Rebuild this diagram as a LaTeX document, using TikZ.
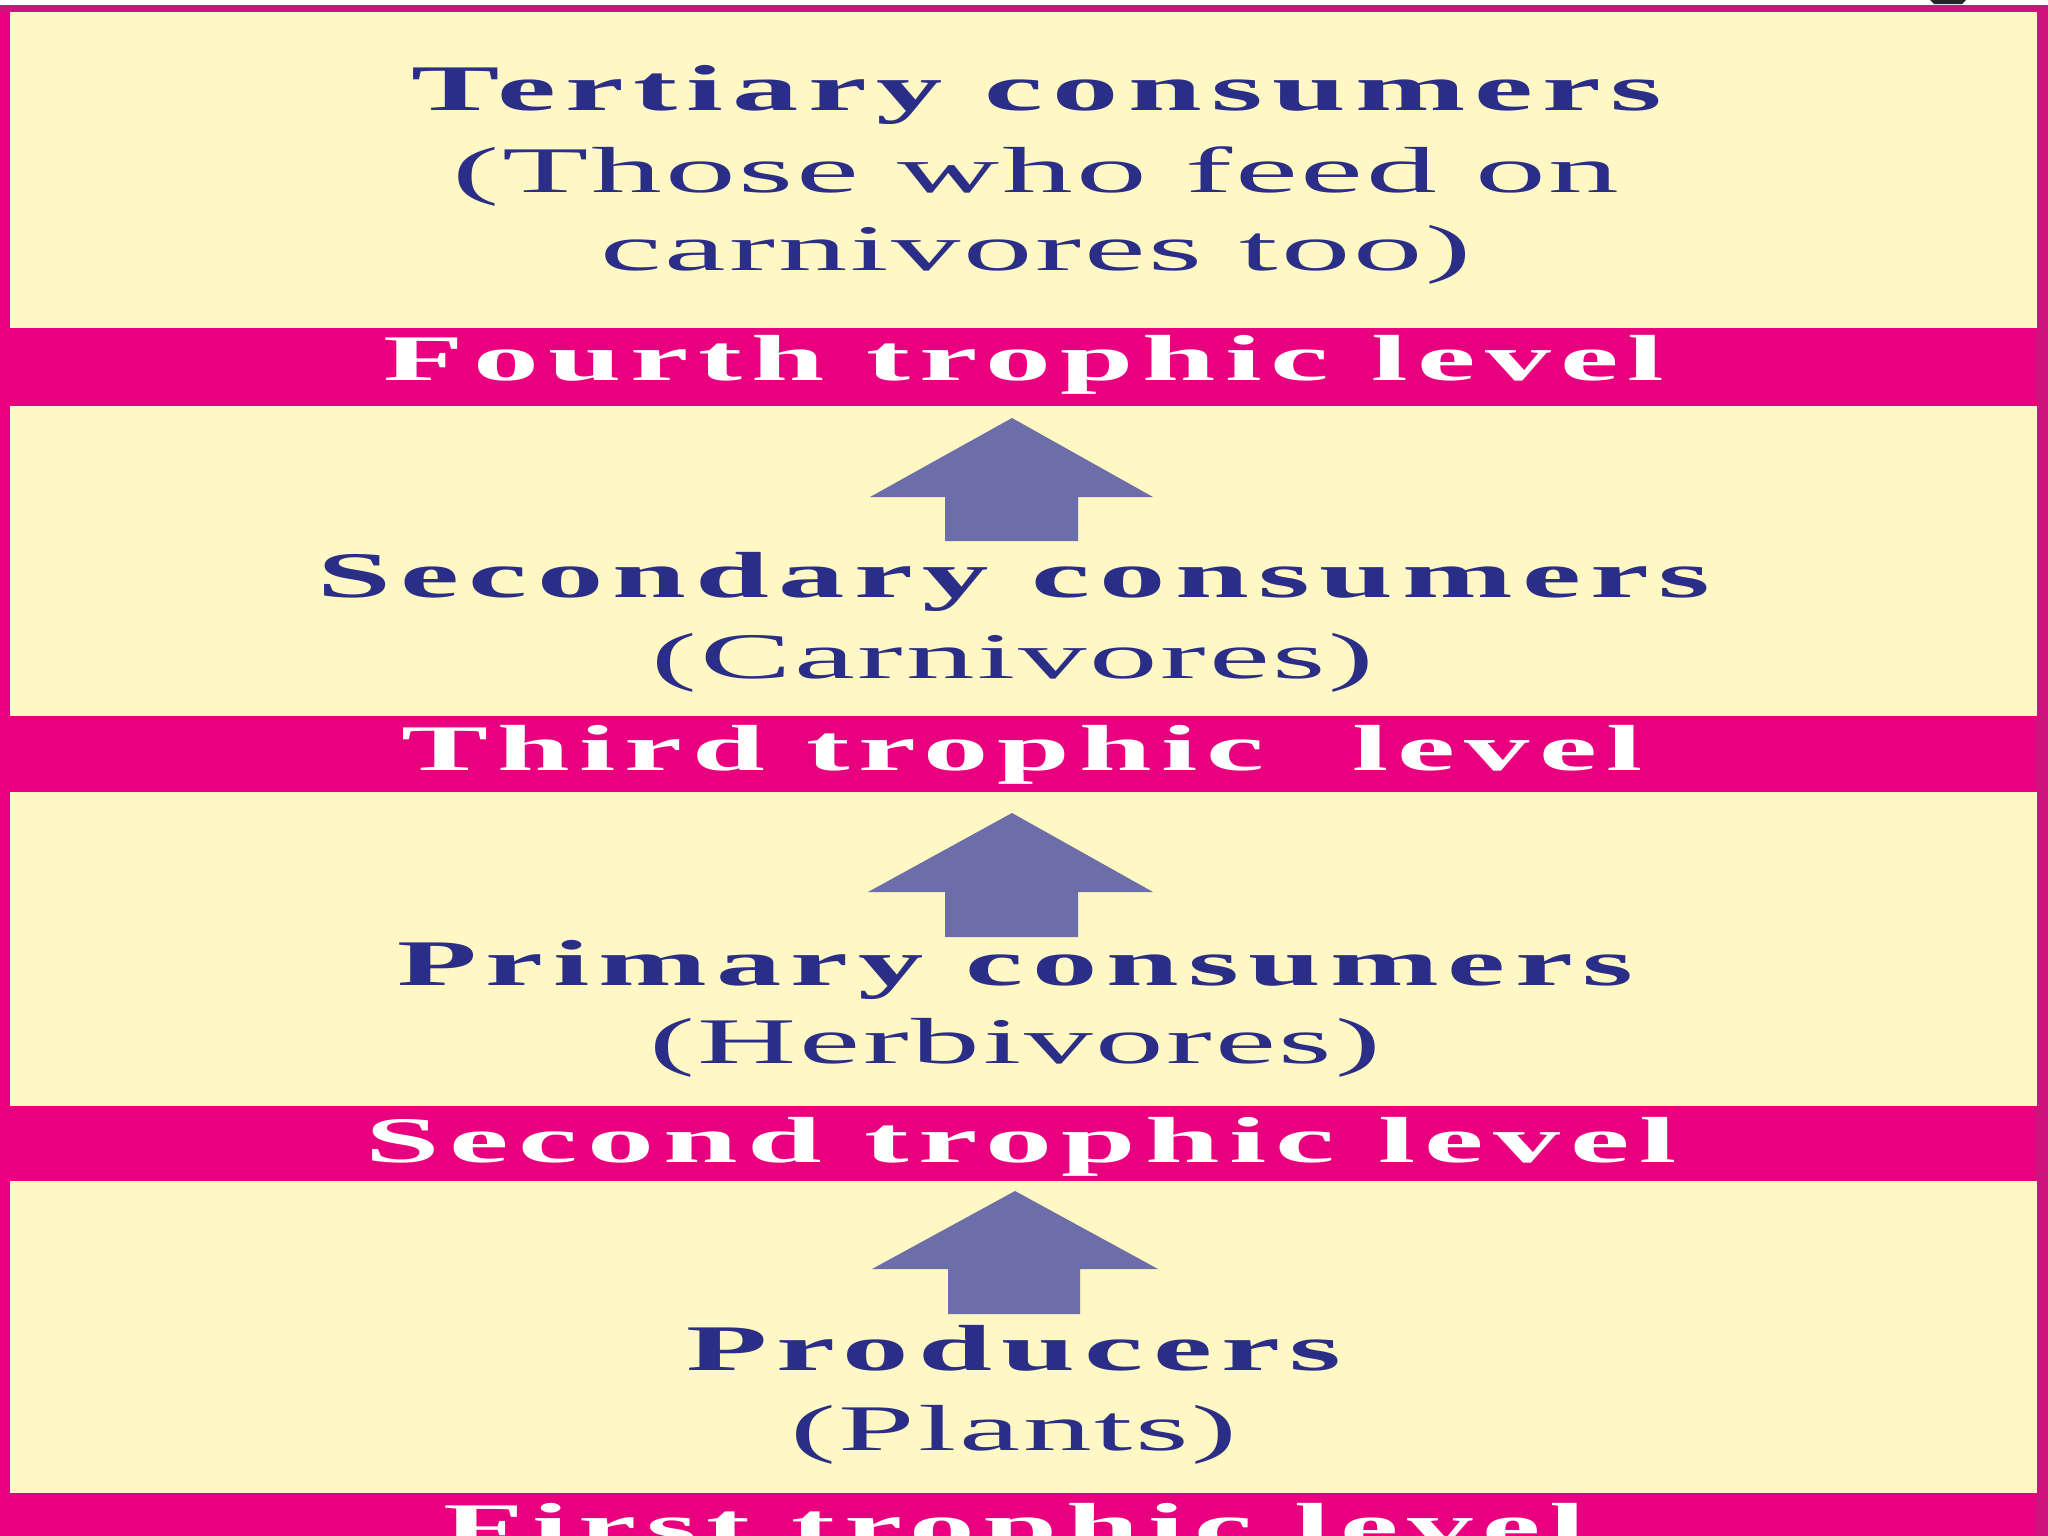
\documentclass[tikz,border=0pt]{standalone}
\usepackage{fontspec}
\usepackage{graphicx}
\setmainfont{Liberation Serif}
\newfontfamily\tbold[LetterSpace=7]{Liberation Serif}
\newfontfamily\treg[LetterSpace=2]{Liberation Serif}
\definecolor{cream}{RGB}{255,247,196}
\definecolor{bandpink}{RGB}{232,0,127}
\definecolor{edgepink}{RGB}{205,20,125}
\definecolor{navy}{RGB}{43,46,134}
\definecolor{arrowblue}{RGB}{107,110,168}
\newcommand{\fitw}[2]{\resizebox{#1}{\height}{#2}}
\newcommand{\hd}[1]{\tbold\bfseries\fontsize{18.5}{22}\selectfont #1}
\newcommand{\sub}[1]{\treg\fontsize{18.5}{22}\selectfont #1}
\tikzset{
  panel/.style={fill=cream, draw=none},
  txt/.style={inner sep=0pt, anchor=base, text=navy},
  bandtxt/.style={inner sep=0pt, anchor=base, text=white},
  uparrow/.style={fill=arrowblue, draw=none}
}
\begin{document}
\begin{tikzpicture}[x=0.01cm, y=-0.01cm]
\useasboundingbox (0,0) rectangle (2048,1536);
\begin{scope}
\clip (0,0) rectangle (2048,1536);
% background
\fill[white] (0,0) rectangle (2048,6);
\fill[bandpink] (0,6) rectangle (2048,1536);
\fill[edgepink] (0,5) rectangle (2048,12);
\fill[edgepink] (2036,5) rectangle (2048,1536);
\fill[black!85] (1930,0) -- (1966,0) -- (1962,4) -- (1934,4) -- cycle;
% panels
\fill[panel] (10,12) rectangle (2037,328);
\fill[panel] (10,406) rectangle (2037,716);
\fill[panel] (10,792) rectangle (2037,1106);
\fill[panel] (10,1181) rectangle (2037,1493);
% arrows
\fill[uparrow] (945,541) -- (945,497) -- (870,497) -- (1012,418) -- (1153,497) -- (1078,497) -- (1078,541) -- cycle;
\fill[uparrow] (945,937) -- (945,892) -- (868,892) -- (1012,813) -- (1153,892) -- (1078,892) -- (1078,937) -- cycle;
\fill[uparrow] (948,1314) -- (948,1269) -- (872,1269) -- (1015,1191) -- (1158,1269) -- (1080,1269) -- (1080,1314) -- cycle;
% level 4
\node[txt] (t4a) at (1037,110) {\fitw{12.5cm}{\hd{Tertiary consumers}}};
\node[txt] (t4b) at (1036,192) {\fitw{11.66cm}{\sub{(Those who feed on}}};
\node[txt] (t4c) at (1036,270) {\fitw{8.7cm}{\sub{carnivores too)}}};
\node[bandtxt] (b4) at (1024,380) {\fitw{12.8cm}{\hd{Fourth trophic level}}};
% level 3
\node[txt] (t3a) at (1014,597) {\fitw{13.92cm}{\hd{Secondary consumers}}};
\node[txt] (t3b) at (1013,678) {\fitw{7.22cm}{\sub{(Carnivores)}}};
\node[bandtxt] (b3) at (1022,770) {\fitw{12.4cm}{\hd{Third trophic\hspace{0.35em} level}}};
% level 2
\node[txt] (t2a) at (1015,985) {\fitw{12.35cm}{\hd{Primary consumers}}};
\node[txt] (t2b) at (1015,1063) {\fitw{7.31cm}{\sub{(Herbivores)}}};
\node[bandtxt] (b2) at (1021,1162) {\fitw{13.1cm}{\hd{Second trophic level}}};
% level 1
\node[txt] (t1a) at (1014,1370) {\fitw{6.55cm}{\hd{Producers}}};
\node[txt] (t1b) at (1014,1450) {\fitw{4.47cm}{\sub{(Plants)}}};
\node[bandtxt] (b1) at (1015,1548) {\fitw{11.42cm}{\hd{First trophic level}}};
\end{scope}
\end{tikzpicture}
\end{document}
